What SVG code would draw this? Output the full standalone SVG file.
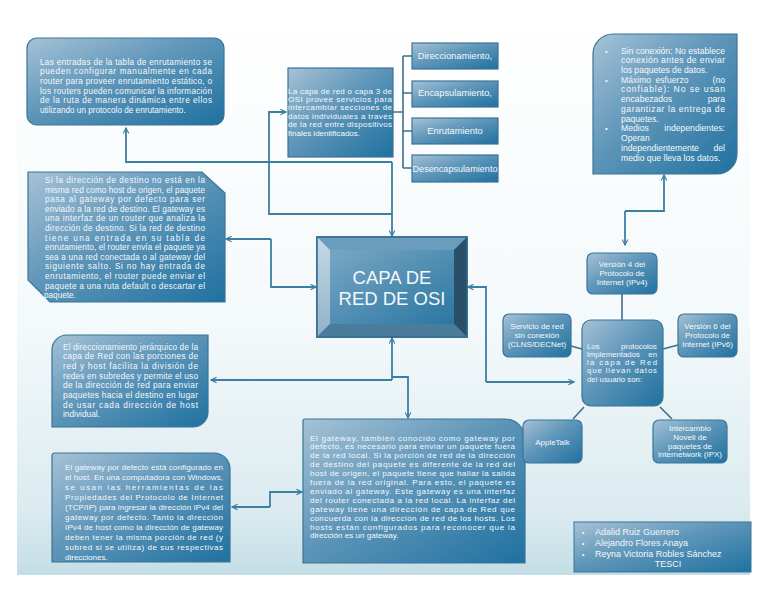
<svg xmlns="http://www.w3.org/2000/svg" width="768" height="594" viewBox="0 0 768 594">
<defs>
<linearGradient id="bg" x1="0" y1="0" x2="0" y2="1">
<stop offset="0" stop-color="#ffffff"/>
<stop offset="0.55" stop-color="#f4f9fb"/>
<stop offset="0.88" stop-color="#dbebf0"/>
<stop offset="1" stop-color="#c4dee6"/>
</linearGradient>
<linearGradient id="box" x1="0" y1="0" x2="1" y2="1">
<stop offset="0" stop-color="#a6c2d6"/>
<stop offset="0.45" stop-color="#5f96b9"/>
<stop offset="1" stop-color="#1f71a0"/>
</linearGradient>
<linearGradient id="face" x1="0" y1="0" x2="1" y2="1">
<stop offset="0" stop-color="#79a6c4"/>
<stop offset="1" stop-color="#2a77a2"/>
</linearGradient>
<linearGradient id="lbev" x1="0" y1="0" x2="0" y2="1">
<stop offset="0" stop-color="#c5d9e6"/>
<stop offset="1" stop-color="#8fb2c9"/>
</linearGradient>
<marker id="ah" viewBox="0 0 10 10" refX="9" refY="5" markerWidth="7" markerHeight="7" markerUnits="userSpaceOnUse" orient="auto">
<path d="M1,1 L9,5 L1,9" fill="none" stroke="#3d7ea3" stroke-width="1.6"/>
</marker>
</defs>
<style>
.bx{fill:url(#box);stroke:#3a7497;stroke-width:1.2}
.t{font-family:"Liberation Sans",Arial,sans-serif;fill:#f4f8fb}
.c{text-anchor:middle}
.e{text-anchor:end}
.cn{fill:none;stroke:#3d7ea3;stroke-width:1.8}
.ln{fill:none;stroke:#3e6f8c;stroke-width:1.6}
</style>
<rect width="768" height="594" fill="#ffffff"/>
<rect x="17" y="20" width="733" height="555" fill="url(#bg)"/>

<g id="connectors">
<path class="cn" d="M392,162 H126 V128" marker-end="url(#ah)"/>
<path class="cn" d="M392,162 V236" marker-end="url(#ah)"/>
<path class="cn" d="M392,214 H269 V112 H286" marker-end="url(#ah)"/>
<path class="ln" d="M393,112 H403 M403,56 V168 M403,56 H412 M403,93 H412 M403,131 H412 M403,168 H412"/>
<path class="cn" d="M271,239 H226" marker-end="url(#ah)"/>
<path class="cn" d="M271,239 V287 H316" marker-end="url(#ah)"/>
<path class="cn" d="M392,380 V338" marker-end="url(#ah)"/>
<path class="cn" d="M392,380 H211" marker-end="url(#ah)"/>
<path class="cn" d="M392,377 H408 V418" marker-end="url(#ah)"/>
<path class="cn" d="M486,382 V287 H468" marker-end="url(#ah)"/>
<path class="cn" d="M486,382 H574" marker-end="url(#ah)"/>
<path class="cn" d="M270,507 V492 H302" marker-end="url(#ah)"/>
<path class="cn" d="M270,507 H232" marker-end="url(#ah)"/>
<path class="cn" d="M625,211 H664 V175" marker-end="url(#ah)"/>
<path class="cn" d="M625,211 V245" marker-end="url(#ah)"/>
<path class="ln" d="M622,294 V320 M571,346 L582,349 M663,349 L678,345 M584,407 L573,419 M660,407 L672,419"/>
</g>

<g id="entradas" class="t" font-size="8.2">
<rect class="bx" x="27" y="38" width="197" height="87" rx="10"/>
<text x="40" y="64.5" textLength="172" lengthAdjust="spacing">Las entradas de la tabla de enrutamiento se</text>
<text x="40" y="74.2" textLength="172" lengthAdjust="spacing">pueden configurar manualmente en cada</text>
<text x="40" y="83.9" textLength="172" lengthAdjust="spacing">router para proveer enrutamiento estático, o</text>
<text x="40" y="93.6" textLength="172" lengthAdjust="spacing">los routers pueden comunicar la información</text>
<text x="40" y="103.3" textLength="172" lengthAdjust="spacing">de la ruta de manera dinámica entre ellos</text>
<text x="40" y="113">utilizando un protocolo de enrutamiento.</text>
</g>

<g id="destino" class="t" font-size="8.2">
<polygon class="bx" points="28,172 202,172 225,193 225,302 50,302 28,280"/>
<text x="45" y="183" textLength="160" lengthAdjust="spacing">Si la dirección de destino no está en la</text>
<text x="45" y="192.6" textLength="160" lengthAdjust="spacing">misma red como host de origen, el paquete</text>
<text x="45" y="202.2" textLength="160" lengthAdjust="spacing">pasa al gateway por defecto para ser</text>
<text x="45" y="211.8" textLength="160" lengthAdjust="spacing">enviado a la red de destino. El gateway es</text>
<text x="45" y="221.4" textLength="160" lengthAdjust="spacing">una interfaz de un router que analiza la</text>
<text x="45" y="231" textLength="160" lengthAdjust="spacing">dirección de destino. Si la red de destino</text>
<text x="45" y="240.6" textLength="160" lengthAdjust="spacing">tiene una entrada en su tabla de</text>
<text x="45" y="250.2" textLength="160" lengthAdjust="spacing">enrutamiento, el router envía el paquete ya</text>
<text x="45" y="259.8" textLength="160" lengthAdjust="spacing">sea a una red conectada o al gateway del</text>
<text x="45" y="269.4" textLength="160" lengthAdjust="spacing">siguiente salto. Si no hay entrada de</text>
<text x="45" y="279" textLength="160" lengthAdjust="spacing">enrutamiento, el router puede enviar el</text>
<text x="45" y="288.6" textLength="160" lengthAdjust="spacing">paquete a una ruta default o descartar el</text>
<text x="44" y="298.2">paquete.</text>
</g>

<g id="capa3" class="t" font-size="8">
<rect class="bx" x="288" y="68" width="105" height="89" stroke="none"/>
<text x="288" y="93.5" textLength="104" lengthAdjust="spacing">La capa de red o capa 3 de</text>
<text x="288" y="101.9" textLength="104" lengthAdjust="spacing">OSI provee servicios para</text>
<text x="288" y="110.3" textLength="104" lengthAdjust="spacing">intercambiar secciones de</text>
<text x="288" y="118.7" textLength="104" lengthAdjust="spacing">datos individuales a través</text>
<text x="288" y="127.1" textLength="104" lengthAdjust="spacing">de la red entre dispositivos</text>
<text x="288" y="135.5">finales identificados.</text>
</g>

<g id="direccionamiento" class="t" font-size="9.3">
<rect class="bx" x="412" y="43" width="86" height="26" stroke="none"/>
<text class="c" x="455" y="59.3">Direccionamiento,</text>
</g>
<g id="encapsulamiento" class="t" font-size="9.3">
<rect class="bx" x="412" y="81" width="86" height="26" stroke="none"/>
<text class="c" x="455" y="96">Encapsulamiento,</text>
</g>
<g id="enrutamiento" class="t" font-size="9.3">
<rect class="bx" x="412" y="118" width="86" height="26" stroke="none"/>
<text class="c" x="455" y="134">Enrutamiento</text>
</g>
<g id="desencapsulamiento" class="t" font-size="9.3">
<rect class="bx" x="412" y="155" width="86" height="27" stroke="none"/>
<text class="c" x="455" y="171.5" textLength="85" lengthAdjust="spacingAndGlyphs">Desencapsulamiento</text>
</g>

<g id="caracteristicas" class="t" font-size="8.6">
<path class="bx" d="M613,34 H737 V154 A20,20 0 0 1 717,174 H593 V54 A20,20 0 0 1 613,34 Z"/>
<text x="605" y="53.5" font-size="8">•</text>
<text x="621" y="53.5" textLength="104" lengthAdjust="spacing">Sin conexión: No establece</text>
<text x="621" y="63.2" textLength="104" lengthAdjust="spacing">conexión antes de enviar</text>
<text x="621" y="72.9">los paquetes de datos.</text>
<text x="605" y="82.7" font-size="8">•</text>
<text x="621" y="82.7">Máximo</text>
<text class="c" x="672" y="82.7">esfuerzo</text>
<text class="e" x="725" y="82.7">(no</text>
<text x="621" y="92.4" textLength="104" lengthAdjust="spacing">confiable): No se usan</text>
<text x="621" y="102.1">encabezados</text>
<text class="e" x="725" y="102.1">para</text>
<text x="621" y="111.9" textLength="104" lengthAdjust="spacing">garantizar la entrega de</text>
<text x="621" y="121.6">paquetes.</text>
<text x="605" y="131.3" font-size="8">•</text>
<text x="621" y="131.3">Medios</text>
<text class="e" x="725" y="131.3">independientes:</text>
<text x="621" y="141.1">Operan</text>
<text x="621" y="150.8">independientemente</text>
<text class="e" x="725" y="150.8">del</text>
<text x="621" y="160.5">medio que lleva los datos.</text>
</g>

<g id="centro" class="t" font-size="18.5">
<rect x="317" y="237" width="150" height="100" fill="url(#face)" stroke="#2f6a8c" stroke-width="1.5"/>
<polygon points="317,237 467,237 454,250 330,250" fill="#6a9dbd"/>
<polygon points="317,237 330,250 330,324 317,337" fill="url(#lbev)"/>
<polygon points="467,237 467,337 454,324 454,250" fill="#2a5069"/>
<polygon points="317,337 330,324 454,324 467,337" fill="#4a7c9c"/>
<rect x="330" y="250" width="124" height="74" fill="url(#face)"/>
<rect x="317" y="237" width="150" height="100" fill="none" stroke="#2f6a8c" stroke-width="1.5"/>
<text class="c" x="392" y="284">CAPA DE</text>
<text class="c" x="392" y="305">RED DE OSI</text>
</g>

<g id="jerarquico" class="t" font-size="8.3">
<path class="bx" d="M67,335 H208 V412 A15,15 0 0 1 193,427 H52 V350 A15,15 0 0 1 67,335 Z"/>
<text x="63" y="349.5" textLength="135" lengthAdjust="spacing">El direccionamiento jerárquico de la</text>
<text x="63" y="359.2" textLength="135" lengthAdjust="spacing">capa de Red con las porciones de</text>
<text x="63" y="368.9" textLength="135" lengthAdjust="spacing">red y host facilita la división de</text>
<text x="63" y="378.6" textLength="135" lengthAdjust="spacing">redes en subredes y permite el uso</text>
<text x="63" y="388.3" textLength="135" lengthAdjust="spacing">de la dirección de red para enviar</text>
<text x="63" y="398" textLength="135" lengthAdjust="spacing">paquetes hacia el destino en lugar</text>
<text x="63" y="407.7" textLength="135" lengthAdjust="spacing">de usar cada dirección de host</text>
<text x="63" y="417.4">individual.</text>
</g>

<g id="gateway_defecto" class="t" font-size="8">
<path class="bx" d="M55,453 H214 A16,16 0 0 1 230,469 V562 H52 V456 A3,3 0 0 1 55,453 Z"/>
<text x="65" y="469.5" textLength="158" lengthAdjust="spacing">El gateway por defecto está configurado en</text>
<text x="65" y="479.5" textLength="158" lengthAdjust="spacing">el host. En una computadora con Windows,</text>
<text x="65" y="489.5" textLength="158" lengthAdjust="spacing">se usan las herramientas de las</text>
<text x="65" y="499.5" textLength="158" lengthAdjust="spacing">Propiedades del Protocolo de Internet</text>
<text x="65" y="509.5" textLength="158" lengthAdjust="spacing">(TCP/IP) para ingresar la dirección IPv4 del</text>
<text x="65" y="519.5" textLength="158" lengthAdjust="spacing">gateway por defecto. Tanto la dirección</text>
<text x="65" y="529.5" textLength="158" lengthAdjust="spacing">IPv4 de host como la dirección de gateway</text>
<text x="65" y="539.5" textLength="158" lengthAdjust="spacing">deben tener la misma porción de red (y</text>
<text x="65" y="549.5" textLength="158" lengthAdjust="spacing">subred si se utiliza) de sus respectivas</text>
<text x="65" y="559.5">direcciones.</text>
</g>

<g id="gateway" class="t" font-size="8.1">
<path class="bx" d="M305,419 H505 A20,20 0 0 1 525,439 V563 H303 V421 A2,2 0 0 1 305,419 Z"/>
<text x="310" y="440.5" textLength="205" lengthAdjust="spacing">El gateway, también conocido como gateway por</text>
<text x="310" y="449.4" textLength="205" lengthAdjust="spacing">defecto, es necesario para enviar un paquete fuera</text>
<text x="310" y="458.3" textLength="205" lengthAdjust="spacing">de la red local. Si la porción de red de la dirección</text>
<text x="310" y="467.2" textLength="205" lengthAdjust="spacing">de destino del paquete es diferente de la red del</text>
<text x="310" y="476.1" textLength="205" lengthAdjust="spacing">host de origen, el paquete tiene que hallar la salida</text>
<text x="310" y="485" textLength="205" lengthAdjust="spacing">fuera de la red original. Para esto, el paquete es</text>
<text x="310" y="493.9" textLength="205" lengthAdjust="spacing">enviado al gateway. Este gateway es una interfaz</text>
<text x="310" y="502.8" textLength="205" lengthAdjust="spacing">del router conectada a la red local. La interfaz del</text>
<text x="310" y="511.7" textLength="205" lengthAdjust="spacing">gateway tiene una dirección de capa de Red que</text>
<text x="310" y="520.6" textLength="205" lengthAdjust="spacing">concuerda con la dirección de red de los hosts. Los</text>
<text x="310" y="529.5" textLength="205" lengthAdjust="spacing">hosts están configurados para reconocer que la</text>
<text x="310" y="538.4">dirección es un gateway.</text>
</g>

<g id="protocolos" class="t" font-size="7.8">
<rect class="bx" x="582" y="320" width="81" height="86" rx="9"/>
<text x="587" y="348.5">Los</text>
<text class="e" x="657" y="348.5">protocolos</text>
<text x="587" y="356.8">implementados</text>
<text class="e" x="657" y="356.8">en</text>
<text x="587" y="365" textLength="70" lengthAdjust="spacing">la capa de Red</text>
<text x="587" y="373.3" textLength="70" lengthAdjust="spacing">que llevan datos</text>
<text x="587" y="381.5">del usuario son:</text>
</g>

<g id="ipv4" class="t" font-size="8">
<rect class="bx" x="587" y="253" width="70" height="41" rx="6"/>
<text class="c" x="622" y="267">Versión 4 del</text>
<text class="c" x="622" y="276">Protocolo de</text>
<text class="c" x="622" y="285">Internet (IPv4)</text>
</g>

<g id="clns" class="t" font-size="8">
<rect class="bx" x="503" y="314" width="68" height="43" rx="6"/>
<text class="c" x="537" y="329">Servicio de red</text>
<text class="c" x="537" y="338">sin conexión</text>
<text class="c" x="537" y="346.5">(CLNS/DECNet)</text>
</g>

<g id="ipv6" class="t" font-size="8">
<rect class="bx" x="678" y="314" width="59" height="43" rx="6"/>
<text class="c" x="707.5" y="329">Versión 6 del</text>
<text class="c" x="707.5" y="338">Protocolo de</text>
<text class="c" x="707.5" y="346.5">Internet (IPv6)</text>
</g>

<g id="appletalk" class="t" font-size="8">
<rect class="bx" x="523" y="420" width="59" height="43" rx="6"/>
<text class="c" x="552.5" y="444.5">AppleTalk</text>
</g>

<g id="ipx" class="t" font-size="8">
<rect class="bx" x="653" y="420" width="74" height="43" rx="6"/>
<text class="c" x="690" y="431">Intercambio</text>
<text class="c" x="690" y="439.8">Novell de</text>
<text class="c" x="690" y="448.6">paquetes de</text>
<text class="c" x="690" y="457.4">internetwork (IPX)</text>
</g>

<g id="autores" class="t" font-size="9">
<rect x="574" y="522" width="177" height="50" fill="url(#box)" stroke="#3a7497" stroke-width="1"/>
<text x="582" y="534.5" font-size="7">•</text>
<text x="595" y="534.5">Adalid Ruiz Guerrero</text>
<text x="582" y="545.5" font-size="7">•</text>
<text x="595" y="545.5">Alejandro Flores Anaya</text>
<text x="582" y="556.5" font-size="7">•</text>
<text x="595" y="556.5">Reyna Victoria Robles Sánchez</text>
<text class="c" x="668" y="567">TESCI</text>
</g>
</svg>
